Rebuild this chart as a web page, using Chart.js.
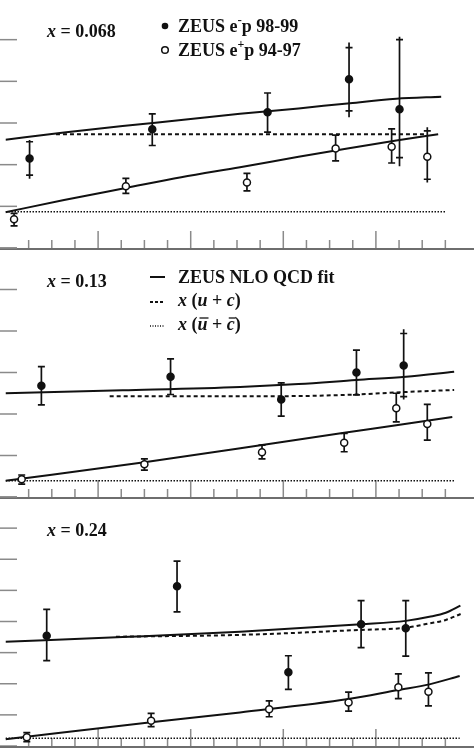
<!DOCTYPE html>
<html lang="en">
<head>
<meta charset="UTF-8">
<title>ZEUS x(u+c) vs Q2</title>
<script src="https://cdn.jsdelivr.net/npm/chart.js"></script>
<style>
    html, body {
        margin: 0;
        padding: 0;
        width: 474px;
        height: 748px;
        background: #fff;
        overflow: hidden;
        position: relative;
    }
    canvas { position: absolute; left: 0; }
</style>
</head>
<body>
<canvas id="panel1"></canvas>
<canvas id="panel2"></canvas>
<canvas id="panel3"></canvas>

<script>
// ---- panel 1 : x = 0.068 ----
const p1MinusX = [1.04, 6.34, 11.32, 14.84, 17.02];
const p1MinusY = [2.15, 2.85, 3.26, 4.05, 3.33];
const p1MinusTotLo = [1.66, 2.46, 2.78, 3.14, 1.96];
const p1MinusTotHi = [2.59, 3.22, 3.72, 4.93, 5.07];
const p1MinusStatLo = [1.75, 2.46, 2.78, 3.29, 2.17];
const p1MinusStatHi = [2.55, 3.22, 3.72, 4.81, 5.00];

const p1PlusX = [0.37, 5.20, 10.43, 14.26, 16.68, 18.22];
const p1PlusY = [0.69, 1.48, 1.57, 2.39, 2.43, 2.19];
const p1PlusTotLo = [0.53, 1.31, 1.37, 2.09, 2.04, 1.57];
const p1PlusTotHi = [0.83, 1.67, 1.79, 2.71, 2.86, 2.90];
const p1PlusStatLo = [0.53, 1.31, 1.37, 2.09, 2.04, 1.65];
const p1PlusStatHi = [0.83, 1.67, 1.79, 2.71, 2.86, 2.81];

const p1FitMinusX = [0, 2.53, 5.06, 7.59, 10.13, 12.66, 14.77, 16.88, 18.82];
const p1FitMinusY = [2.60, 2.77, 2.93, 3.07, 3.22, 3.35, 3.47, 3.58, 3.63];
const p1UcX = [2.18, 10.0, 18.17];
const p1UcY = [2.73, 2.73, 2.73];
const p1FitPlusX = [0, 2.53, 5.19, 7.59, 10.13, 12.66, 14.77, 16.88, 18.69];
const p1FitPlusY = [0.86, 1.15, 1.44, 1.70, 1.94, 2.19, 2.39, 2.58, 2.73];
const p1UbarX = [0, 19.02];
const p1UbarY = [0.87, 0.87];

// ---- panel 2 : x = 0.13 ----
const p2MinusX = [1.55, 7.13, 11.91, 15.16, 17.20];
const p2MinusY = [2.68, 2.90, 2.35, 3.00, 3.17];
const p2MinusTotLo = [2.22, 2.47, 1.95, 2.46, 2.35];
const p2MinusTotHi = [3.14, 3.33, 2.75, 3.54, 4.04];
const p2MinusStatLo = [2.22, 2.47, 1.95, 2.46, 2.42];
const p2MinusStatHi = [3.14, 3.33, 2.75, 3.54, 3.94];

const p2PlusX = [0.70, 6.00, 11.08, 14.63, 16.88, 18.22];
const p2PlusY = [0.43, 0.79, 1.08, 1.31, 2.14, 1.76];
const p2PlusTotLo = [0.31, 0.65, 0.92, 1.09, 1.81, 1.37];
const p2PlusTotHi = [0.53, 0.92, 1.25, 1.53, 2.50, 2.23];

const p2FitMinusX = [0, 5.06, 10.13, 12.66, 15.15, 17.30, 19.38];
const p2FitMinusY = [2.50, 2.57, 2.65, 2.72, 2.82, 2.90, 3.02];
const p2UcX = [4.50, 11.98, 15.15, 16.88, 19.38];
const p2UcY = [2.43, 2.43, 2.47, 2.52, 2.58];
const p2FitPlusX = [0, 6.00, 10.00, 14.63, 16.88, 19.30];
const p2FitPlusY = [0.39, 0.84, 1.16, 1.55, 1.73, 1.93];
const p2UbarX = [0, 19.38];
const p2UbarY = [0.39, 0.39];

// ---- panel 3 : x = 0.24 ----
const p3MinusX = [1.78, 7.41, 12.22, 15.36, 17.29];
const p3MinusY = [3.54, 5.13, 2.37, 3.91, 3.78];
const p3MinusTotLo = [2.74, 4.31, 1.82, 3.16, 2.89];
const p3MinusTotHi = [4.39, 5.94, 2.90, 4.67, 4.67];

const p3PlusX = [0.92, 6.29, 11.39, 14.82, 16.97, 18.27];
const p3PlusY = [0.28, 0.81, 1.18, 1.40, 1.89, 1.74];
const p3PlusTotLo = [0.14, 0.62, 0.94, 1.12, 1.52, 1.29];
const p3PlusTotHi = [0.43, 1.05, 1.45, 1.73, 2.32, 2.35];

const p3FitMinusX = [0, 5.06, 10.13, 15.36, 17.29, 18.31, 19.02, 19.65];
const p3FitMinusY = [3.35, 3.50, 3.67, 3.91, 4.02, 4.15, 4.28, 4.51];
const p3UcX = [4.77, 10.13, 15.36, 17.29, 18.31, 19.02, 19.66];
const p3UcY = [3.51, 3.57, 3.73, 3.80, 3.94, 4.05, 4.24];
const p3FitPlusX = [0, 6.29, 10.13, 14.81, 16.96, 18.31, 19.62];
const p3FitPlusY = [0.22, 0.76, 1.08, 1.51, 1.80, 1.98, 2.25];
const p3UbarX = [0, 19.62];
const p3UbarY = [0.25, 0.25];

// axis ticks (same x axis for all panels)
const xMax = 20;
const xMajorEvery = 4;

const FONT = '"Liberation Serif", "Times New Roman", serif';
const FONT_SIZE = 18;

function pts(xs, ys) {
    return xs.map((x, i) => ({ x: x, y: ys[i] }));
}

function curve(xs, ys, dash, width) {
    return {
        data: pts(xs, ys),
        showLine: true,
        borderColor: '#111',
        borderWidth: width,
        borderDash: dash,
        pointRadius: 0,
        cubicInterpolationMode: 'monotone',
        order: 2
    };
}

function markers(xs, ys, lo, hi, statLo, statHi, filled) {
    return {
        data: pts(xs, ys),
        pointRadius: 3.5,
        pointBorderWidth: 1.5,
        pointBorderColor: '#111',
        pointBackgroundColor: filled ? '#111' : '#fff',
        totLo: lo, totHi: hi,
        statLo: statLo || lo, statHi: statHi || hi,
        order: 1
    };
}

// axis line + inward ticks
const frame = {
    id: 'frame',
    beforeDatasetsDraw(chart) {
        const ctx = chart.ctx;
        const xs = chart.scales.x, ys = chart.scales.y;
        const base = chart.chartArea.bottom + 1;
        ctx.save();
        ctx.strokeStyle = '#8a8a8a';
        ctx.lineWidth = 1.5;
        for (let v = 0; v <= ys.max; v++) {
            const py = ys.getPixelForValue(v);
            ctx.beginPath();
            ctx.moveTo(0, py);
            ctx.lineTo(17, py);
            ctx.stroke();
        }
        for (let v = 1; v < xMax; v++) {
            const px = xs.getPixelForValue(v);
            const len = v % xMajorEvery === 0 ? 18 : 9;
            ctx.beginPath();
            ctx.moveTo(px, base);
            ctx.lineTo(px, base - len);
            ctx.stroke();
        }
        ctx.strokeStyle = '#6e6e6e';
        ctx.lineWidth = 2;
        ctx.beginPath();
        ctx.moveTo(0, base);
        ctx.lineTo(chart.width, base);
        ctx.stroke();
        ctx.restore();
    }
};

// error bars, drawn just before their markers so open circles cover them
const errorBars = {
    id: 'errorBars',
    beforeDatasetDraw(chart, args) {
        const ds = chart.data.datasets[args.index];
        if (!ds.totLo) return;
        const ctx = chart.ctx;
        const xs = chart.scales.x, ys = chart.scales.y;
        ctx.save();
        ctx.strokeStyle = '#111';
        ctx.lineWidth = 1.7;
        ds.data.forEach((p, i) => {
            const px = xs.getPixelForValue(p.x);
            ctx.beginPath();
            ctx.moveTo(px, ys.getPixelForValue(ds.totLo[i]));
            ctx.lineTo(px, ys.getPixelForValue(ds.totHi[i]));
            [ds.statLo[i], ds.statHi[i]].forEach(v => {
                const py = ys.getPixelForValue(v);
                ctx.moveTo(px - 3.5, py);
                ctx.lineTo(px + 3.5, py);
            });
            ctx.stroke();
        });
        ctx.restore();
    }
};

// draw a row of text pieces with mixed styles
function drawRuns(ctx, x, y, runs) {
    runs.forEach(r => {
        const size = r.size || FONT_SIZE;
        ctx.font = (r.it ? 'italic ' : '') + 'bold ' + size + 'px ' + FONT;
        ctx.fillText(r.t, x, y + (r.dy || 0));
        const w = ctx.measureText(r.t).width;
        if (r.bar) {
            ctx.save();
            ctx.lineWidth = 1.3;
            ctx.beginPath();
            ctx.moveTo(x + 2, y - 12);
            ctx.lineTo(x + w + 1, y - 12);
            ctx.stroke();
            ctx.restore();
        }
        x += w;
    });
}

function xLabel(ctx, top, yPage, value) {
    drawRuns(ctx, 47, yPage - top, [{ t: 'x', it: true }, { t: ' = ' + value }]);
}

function buildPanel(id, top, bottom, yMax, datasets, drawText) {
    const canvas = document.getElementById(id);
    const cTop = top - 10;
    canvas.width = 474;
    canvas.height = bottom - top + 20;
    canvas.style.top = cTop + 'px';

    const text = {
        id: 'text',
        afterDraw(chart) {
            const ctx = chart.ctx;
            ctx.save();
            ctx.fillStyle = '#111';
            ctx.strokeStyle = '#111';
            ctx.textBaseline = 'alphabetic';
            drawText(ctx, cTop);
            ctx.restore();
        }
    };

    new Chart(canvas, {
        type: 'scatter',
        data: { datasets: datasets },
        options: {
            responsive: false,
            animation: false,
            events: [],
            layout: { padding: { top: 10, bottom: 10, left: 0, right: 0 } },
            scales: {
                x: { type: 'linear', min: 0, max: xMax, display: false },
                y: { type: 'linear', min: 0, max: yMax, display: false }
            },
            plugins: { legend: { display: false }, tooltip: { enabled: false } }
        },
        plugins: [frame, errorBars, text]
    });
}

buildPanel('panel1', -2, 248, 6, [
    markers(p1MinusX, p1MinusY, p1MinusTotLo, p1MinusTotHi, p1MinusStatLo, p1MinusStatHi, true),
    markers(p1PlusX, p1PlusY, p1PlusTotLo, p1PlusTotHi, p1PlusStatLo, p1PlusStatHi, false),
    curve(p1FitMinusX, p1FitMinusY, [], 2),
    curve(p1UcX, p1UcY, [4, 3], 2),
    curve(p1FitPlusX, p1FitPlusY, [], 2),
    curve(p1UbarX, p1UbarY, [1.5, 1.5], 1.5)
], (ctx, top) => {
    xLabel(ctx, top, 37, '0.068');
    // legend: data sets
    ctx.beginPath();
    ctx.arc(165, 26 - top, 3.3, 0, Math.PI * 2);
    ctx.fill();
    ctx.beginPath();
    ctx.lineWidth = 1.5;
    ctx.arc(165, 50 - top, 3.3, 0, Math.PI * 2);
    ctx.stroke();
    drawRuns(ctx, 178, 32 - top, [{ t: 'ZEUS e' }, { t: '-', size: 13, dy: -8 }, { t: 'p 98-99' }]);
    drawRuns(ctx, 178, 56 - top, [{ t: 'ZEUS e' }, { t: '+', size: 12, dy: -8 }, { t: 'p 94-97' }]);
});

buildPanel('panel2', 248, 497, 6, [
    markers(p2MinusX, p2MinusY, p2MinusTotLo, p2MinusTotHi, p2MinusStatLo, p2MinusStatHi, true),
    markers(p2PlusX, p2PlusY, p2PlusTotLo, p2PlusTotHi, null, null, false),
    curve(p2FitMinusX, p2FitMinusY, [], 2),
    curve(p2UcX, p2UcY, [4, 3], 2),
    curve(p2FitPlusX, p2FitPlusY, [], 2),
    curve(p2UbarX, p2UbarY, [1.5, 1.5], 1.5)
], (ctx, top) => {
    xLabel(ctx, top, 287, '0.13');
    // legend: curves
    const rows = [[277, [], 2], [302, [3, 2], 1.8], [326, [1, 1.5], 1.3]];
    rows.forEach(r => {
        ctx.save();
        ctx.lineWidth = r[2];
        ctx.setLineDash(r[1]);
        ctx.beginPath();
        ctx.moveTo(150, r[0] - top);
        ctx.lineTo(165, r[0] - top);
        ctx.stroke();
        ctx.restore();
    });
    drawRuns(ctx, 178, 283 - top, [{ t: 'ZEUS NLO QCD fit' }]);
    drawRuns(ctx, 178, 306 - top, [{ t: 'x', it: true }, { t: ' (' }, { t: 'u', it: true }, { t: ' + ' }, { t: 'c', it: true }, { t: ')' }]);
    drawRuns(ctx, 178, 330 - top, [{ t: 'x', it: true }, { t: ' (' }, { t: 'u', it: true, bar: true }, { t: ' + ' }, { t: 'c', it: true, bar: true }, { t: ')' }]);
});

buildPanel('panel3', 497, 746, 8, [
    markers(p3MinusX, p3MinusY, p3MinusTotLo, p3MinusTotHi, null, null, true),
    markers(p3PlusX, p3PlusY, p3PlusTotLo, p3PlusTotHi, null, null, false),
    curve(p3FitMinusX, p3FitMinusY, [], 2),
    curve(p3UcX, p3UcY, [4, 3], 2),
    curve(p3FitPlusX, p3FitPlusY, [], 2),
    curve(p3UbarX, p3UbarY, [1.5, 1.5], 1.5)
], (ctx, top) => {
    xLabel(ctx, top, 536, '0.24');
});
</script>
</body>
</html>
